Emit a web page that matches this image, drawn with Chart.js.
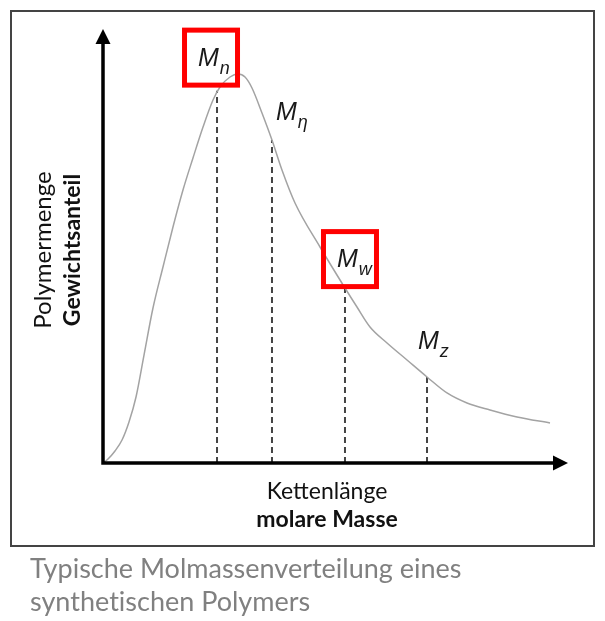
<!DOCTYPE html>
<html lang="de">
<head>
    <meta charset="UTF-8">
    <title>Molmassenverteilung</title>
    <script src="https://cdn.jsdelivr.net/npm/chart.js"></script>
    <style>
        body { margin: 0; background: #fff; }
        .page { position: relative; width: 605px; height: 621px; }
        .frame {
            position: absolute; left: 10px; top: 10px;
            width: 585px; height: 537px;
            border: 2px solid #444; box-sizing: border-box;
        }
        .plot { position: absolute; left: 0; top: 0; width: 605px; height: 621px; }
        .caption {
            position: absolute; left: 30px; top: 551px;
            font-family: Lato, sans-serif; font-size: 27px; line-height: 33px;
            font-variant-ligatures: none;
            color: #808080;
        }
    </style>
</head>
<body>
<div class="page">
    <div class="frame"></div>
    <div class="plot"><canvas id="chart"></canvas></div>
    <div class="caption">Typische Molmassenverteilung eines<br>synthetischen Polymers</div>
</div>

<script>
    // distribution curve (both axes 0..100, no units)
    const chainLength = [0, 1.08, 2.58, 4.09, 5.59, 7.10, 8.82, 10.75, 12.90, 15.05, 17.20, 19.35, 21.51,
        23.66, 25.16, 27.31, 29.03, 30.54, 32.04, 34.19, 36.34, 38.49, 41.29, 46.67, 52.04, 54.62, 57.42,
        61.08, 65.38, 69.68, 73.98, 78.28, 83.23, 89.03, 96.13];
    const weightFraction = [0, 0.92, 2.76, 5.30, 9.45, 15.21, 24.88, 35.71, 45.16, 54.38, 62.90, 70.28, 77.42,
        83.64, 86.64, 88.94, 89.63, 88.94, 86.41, 80.65, 74.42, 67.51, 59.91, 49.77, 40.32, 35.94, 31.34,
        27.65, 23.73, 19.82, 16.13, 13.82, 12.21, 10.60, 9.22];

    // molar mass averages Mn, Mη, Mw, Mz
    const averageNames = ['n', 'η', 'w', 'z'];
    const averageX = [24.52, 36.34, 52.04, 69.68];
    const averageY = [85.8, 74.4, 40.3, 19.8];
    const averageBoxed = [true, false, true, false];

    // label placement relative to the top of each dashed line (px)
    const labelOffsets = [[-19, -25], [4, -20], [-8, -21], [-9, -28]];

    const curve = chainLength.map((v, i) => ({ x: v, y: weightFraction[i] }));

    const dashed = averageX.map((v, i) => ({
        data: [{ x: v, y: 0 }, { x: v, y: averageY[i] }],
        borderColor: '#444',
        borderWidth: 2,
        borderDash: [6, 4],
        pointRadius: 0
    }));

    // axes with arrow heads, M labels, axis titles
    const sketch = {
        id: 'sketch',
        afterDatasetsDraw(chart) {
            const { ctx, chartArea: a, scales: { x, y } } = chart;
            ctx.save();

            ctx.strokeStyle = '#000';
            ctx.fillStyle = '#000';
            ctx.lineWidth = 3.5;
            ctx.lineJoin = 'miter';
            ctx.beginPath();
            ctx.moveTo(a.left, a.top + 12);
            ctx.lineTo(a.left, a.bottom);
            ctx.lineTo(a.right - 12, a.bottom);
            ctx.stroke();

            ctx.beginPath();
            ctx.moveTo(a.left, a.top);
            ctx.lineTo(a.left - 7.5, a.top + 15);
            ctx.lineTo(a.left + 7.5, a.top + 15);
            ctx.closePath();
            ctx.fill();

            ctx.beginPath();
            ctx.moveTo(a.right, a.bottom);
            ctx.lineTo(a.right - 15, a.bottom - 7.5);
            ctx.lineTo(a.right - 15, a.bottom + 7.5);
            ctx.closePath();
            ctx.fill();

            ctx.textAlign = 'left';
            ctx.textBaseline = 'alphabetic';
            averageNames.forEach((name, i) => {
                const px = x.getPixelForValue(averageX[i]) + labelOffsets[i][0];
                const py = y.getPixelForValue(averageY[i]) + labelOffsets[i][1];
                ctx.fillStyle = '#1a1a1a';
                ctx.font = 'italic 25px "Liberation Sans"';
                ctx.fillText('M', px, py);
                const w = ctx.measureText('M').width;
                ctx.font = 'italic 18px "Liberation Sans"';
                ctx.fillText(name, px + w + 1, py + 8);
                if (averageBoxed[i]) {
                    ctx.strokeStyle = '#ff0000';
                    ctx.lineWidth = 5;
                    ctx.strokeRect(px - 13.5, py - 35.5, 53, 55);
                }
            });

            ctx.fillStyle = '#111';
            ctx.textAlign = 'center';
            ctx.font = '23px Lato';
            ctx.fillText('Kettenlänge', a.left + 224, a.bottom + 36);
            ctx.font = 'bold 23px Lato';
            ctx.fillText('molare Masse', a.left + 224, a.bottom + 64);

            ctx.translate(a.left - 52, 250);
            ctx.rotate(-Math.PI / 2);
            ctx.font = '24px Lato';
            ctx.fillText('Polymermenge', 0, 0);
            ctx.font = 'bold 23px Lato';
            ctx.fillText('Gewichtsanteil', 0, 29);
            ctx.restore();
        }
    };

    new Chart(document.getElementById('chart'), {
        type: 'line',
        data: {
            datasets: [
                {
                    data: curve,
                    borderColor: '#a3a3a3',
                    borderWidth: 1.5,
                    pointRadius: 0,
                    cubicInterpolationMode: 'monotone'
                },
                ...dashed
            ]
        },
        options: {
            responsive: true,
            maintainAspectRatio: false,
            animation: false,
            layout: { padding: { left: 103, top: 29, right: 37, bottom: 158 } },
            plugins: { legend: { display: false }, tooltip: { enabled: false } },
            scales: {
                x: { type: 'linear', min: 0, max: 100, display: false },
                y: { min: 0, max: 100, display: false }
            }
        },
        plugins: [sketch]
    });
</script>
</body>
</html>
